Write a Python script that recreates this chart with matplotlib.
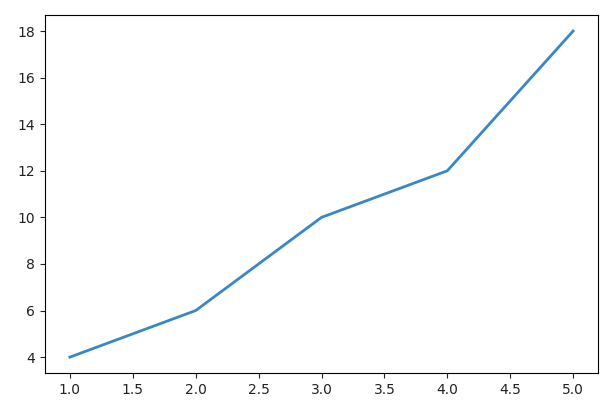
import matplotlib
matplotlib.use('Agg')
import matplotlib.pyplot as plt

# 数据
x_values = [1, 2, 3, 4, 5]
y_values = [4, 6, 10, 12, 18]

fig = plt.figure(figsize=(6.13, 4.09), dpi=100)
ax = fig.add_axes([0.073, 0.087, 0.903, 0.877])
ax.plot(x_values, y_values, color='#3a87c5', linewidth=2)

ax.set_xticks([1.0, 1.5, 2.0, 2.5, 3.0, 3.5, 4.0, 4.5, 5.0])
ax.set_yticks([4, 6, 8, 10, 12, 14, 16, 18])
ax.tick_params(labelsize=10, colors='#222222')

fig.savefig('out.png', dpi=100)
